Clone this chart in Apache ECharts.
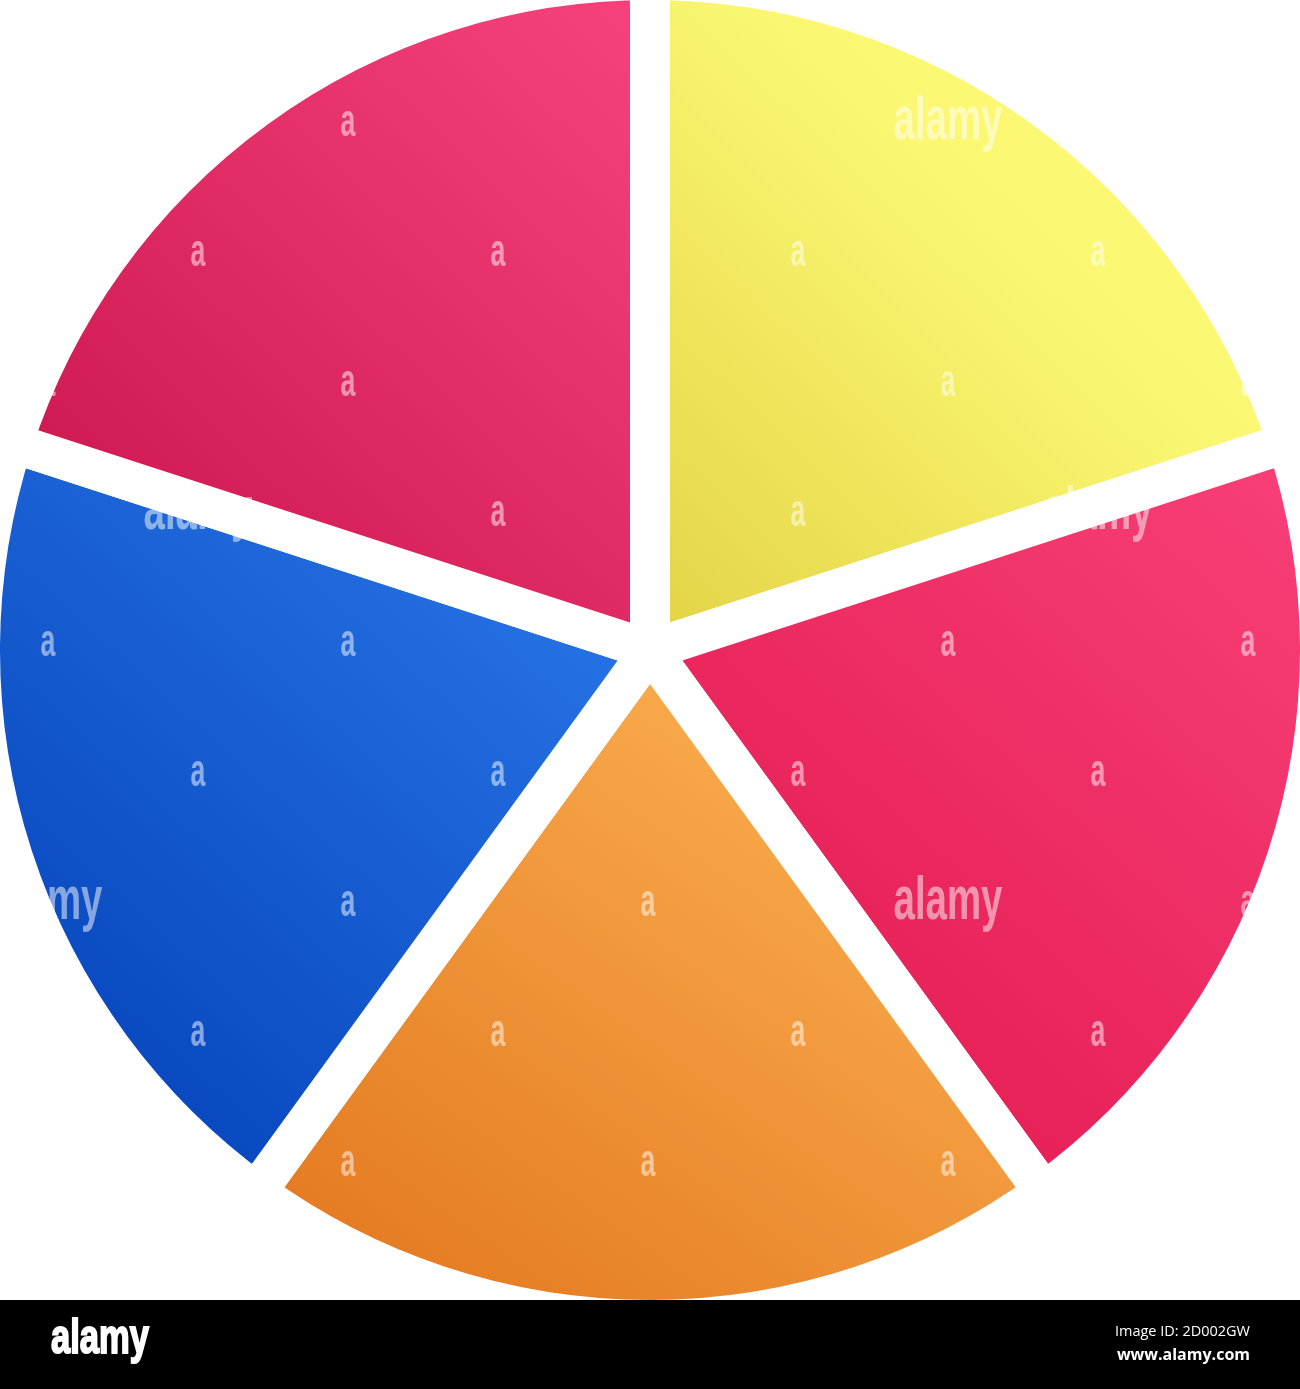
<!DOCTYPE html>
<html>
<head>
<meta charset="utf-8">
<script src="https://cdn.jsdelivr.net/npm/echarts@6/dist/echarts.min.js"></script>
<style>
html,body{margin:0;padding:0;background:#fff;}
#chart{width:1300px;height:1389px;}
</style>
</head>
<body>
<div id="chart"></div>
<script>
// Data
var categories = ['Segment 1', 'Segment 2', 'Segment 3', 'Segment 4', 'Segment 5'];
var values = [20, 20, 20, 20, 20];
var footerLogo = 'alamy';
var footerId = 'Image ID: 2D002GW';
var footerUrl = 'www.alamy.com';

// Styles (gradient per slice)
var sliceStyles = [
  {dir: [1, 0, 0, 1],     stops: [[0, '#FDFB76'], [0.42, '#FBF773'], [1, '#E1D142']]},
  {dir: [1, 0, 0, 1],     stops: [[0, '#FA427B'], [1, '#DE1449']]},
  {dir: [0.7, 0, 0.1, 1], stops: [[0, '#FCB252'], [1, '#E2751D']]},
  {dir: [1, 0, 0, 1],     stops: [[0, '#2E7EEF'], [1, '#003BB3']]},
  {dir: [1, 0, 0, 1],     stops: [[0, '#F8427B'], [0.15, '#F23E77'], [1, '#C50F48']]}
];

var chart = echarts.init(document.getElementById('chart'), null, {renderer: 'canvas'});

var pieData = categories.map(function (name, i) {
  var s = sliceStyles[i];
  return {
    name: name,
    value: values[i],
    itemStyle: {
      color: new echarts.graphic.LinearGradient(s.dir[0], s.dir[1], s.dir[2], s.dir[3],
        s.stops.map(function (st) { return {offset: st[0], color: st[1]}; }))
    }
  };
});

// watermark elements (decorative)
var wm = [];
var wordSpots = {'0,6': 1, '3,1': 1, '3,7': 1, '6,0': 1, '6,6': 1};
for (var r = 0; r < 9; r++) {
  for (var k = 0; k < 9; k++) {
    if ((r + k) % 2 !== 0) continue;
    var cx = 48 + 150 * k, cy = 127 + 130 * r;
    var isWord = wordSpots[r + ',' + k];
    wm.push({
      type: 'text',
      x: cx, y: isWord ? cy - 5 : cy - 4,
      scaleX: isWord ? 0.62 : 0.58,
      silent: true,
      z: 10,
      style: {
        text: isWord ? 'alamy' : 'a',
        fill: 'rgba(255,255,255,0.5)',
        font: 'bold ' + (isWord ? 62 : 46) + 'px "Liberation Sans", Arial, sans-serif',
        textAlign: 'center',
        textVerticalAlign: 'middle'
      }
    });
  }
}

var option = {
  backgroundColor: '#ffffff',
  animation: false,
  series: [{
    type: 'pie',
    center: [650, 650],
    radius: [0, 670],
    startAngle: 90,
    clockwise: true,
    silent: true,
    label: {show: false},
    labelLine: {show: false},
    emphasis: {disabled: true},
    itemStyle: {borderColor: '#ffffff', borderWidth: 40, borderJoin: 'miter'},
    data: pieData
  }],
  graphic: wm.concat([
    {
      type: 'rect', left: 0, top: 1300, z: 20, silent: true,
      shape: {width: 1300, height: 89},
      style: {fill: '#000000'}
    },
    {
      type: 'text', x: 51, y: 1340, z: 21, scaleX: 0.72, silent: true,
      style: {
        text: footerLogo, fill: '#ffffff', stroke: '#ffffff', lineWidth: 2,
        font: 'bold 48px "Liberation Sans", Arial, sans-serif',
        textAlign: 'left', textVerticalAlign: 'middle'
      }
    },
    {
      type: 'text', x: 1250, y: 1332, z: 21, silent: true,
      style: {
        text: footerId, fill: '#ffffff',
        font: '14.5px "Open Sans", "Noto Sans", sans-serif',
        textAlign: 'right', textVerticalAlign: 'middle'
      }
    },
    {
      type: 'text', x: 1250, y: 1355, z: 21, silent: true,
      style: {
        text: footerUrl, fill: '#ffffff',
        font: 'bold 16px "Open Sans", "Noto Sans", sans-serif',
        textAlign: 'right', textVerticalAlign: 'middle'
      }
    }
  ])
};
chart.setOption(option);
</script>
</body>
</html>
